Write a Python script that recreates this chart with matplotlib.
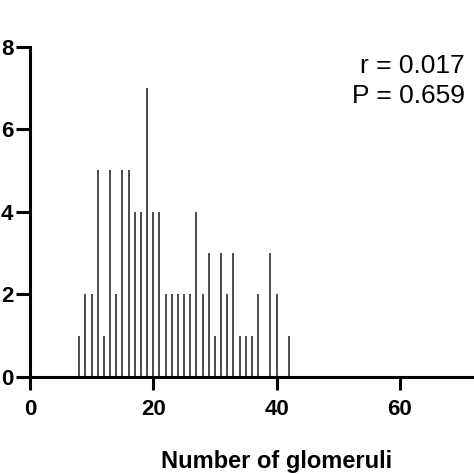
import matplotlib
matplotlib.use("Agg")
import matplotlib.pyplot as plt

plt.rcParams['font.family'] = ['Liberation Sans', 'DejaVu Sans']

# number of glomeruli and how many cases had that count
glomeruli = [8, 9, 10, 11, 12, 13, 14, 15, 16, 17, 18, 19, 20, 21,
             22, 23, 24, 25, 26, 27, 28, 29, 30, 31, 32, 33, 34, 35,
             36, 37, 39, 40, 42]
counts = [1, 2, 2, 5, 1, 5, 2, 5, 5, 4, 4, 7, 4, 4,
          2, 2, 2, 2, 2, 4, 2, 3, 1, 3, 2, 3, 1, 1,
          1, 2, 3, 2, 1]

x_ticks = [0, 20, 40, 60]
y_ticks = [0, 2, 4, 6, 8]
r_text = "r = 0.017"
p_text = "P = 0.659"

fig = plt.figure(figsize=(4.74, 4.74), dpi=100)
ax = fig.add_axes([30 / 474, 97 / 474, 493 / 474, 330.5 / 474])

ax.vlines(glomeruli, 0, counts, color="#1a1a1a", lw=1.1)

ax.set_xlim(0, 80)
ax.set_ylim(0, 8)
ax.set_xticks(x_ticks)
ax.set_yticks(y_ticks)

for s in ["top", "right"]:
    ax.spines[s].set_visible(False)
for s in ["left", "bottom"]:
    ax.spines[s].set_linewidth(2.2)
    ax.spines[s].set_capstyle("projecting")

ax.tick_params(axis="x", length=9.5, width=2.2, pad=6, labelsize=16)
ax.tick_params(axis="y", length=10, width=2.2, pad=2, labelsize=16)
for lab in ax.get_xticklabels() + ax.get_yticklabels():
    lab.set_fontweight("bold")

ax.set_xlabel("Number of glomeruli", fontsize=17, fontweight="bold", labelpad=22)

fig.text(0.981, 0.846, r_text, ha="right", va="baseline", fontsize=19)
fig.text(0.981, 0.783, p_text, ha="right", va="baseline", fontsize=19)

fig.savefig("out.png", dpi=100)
